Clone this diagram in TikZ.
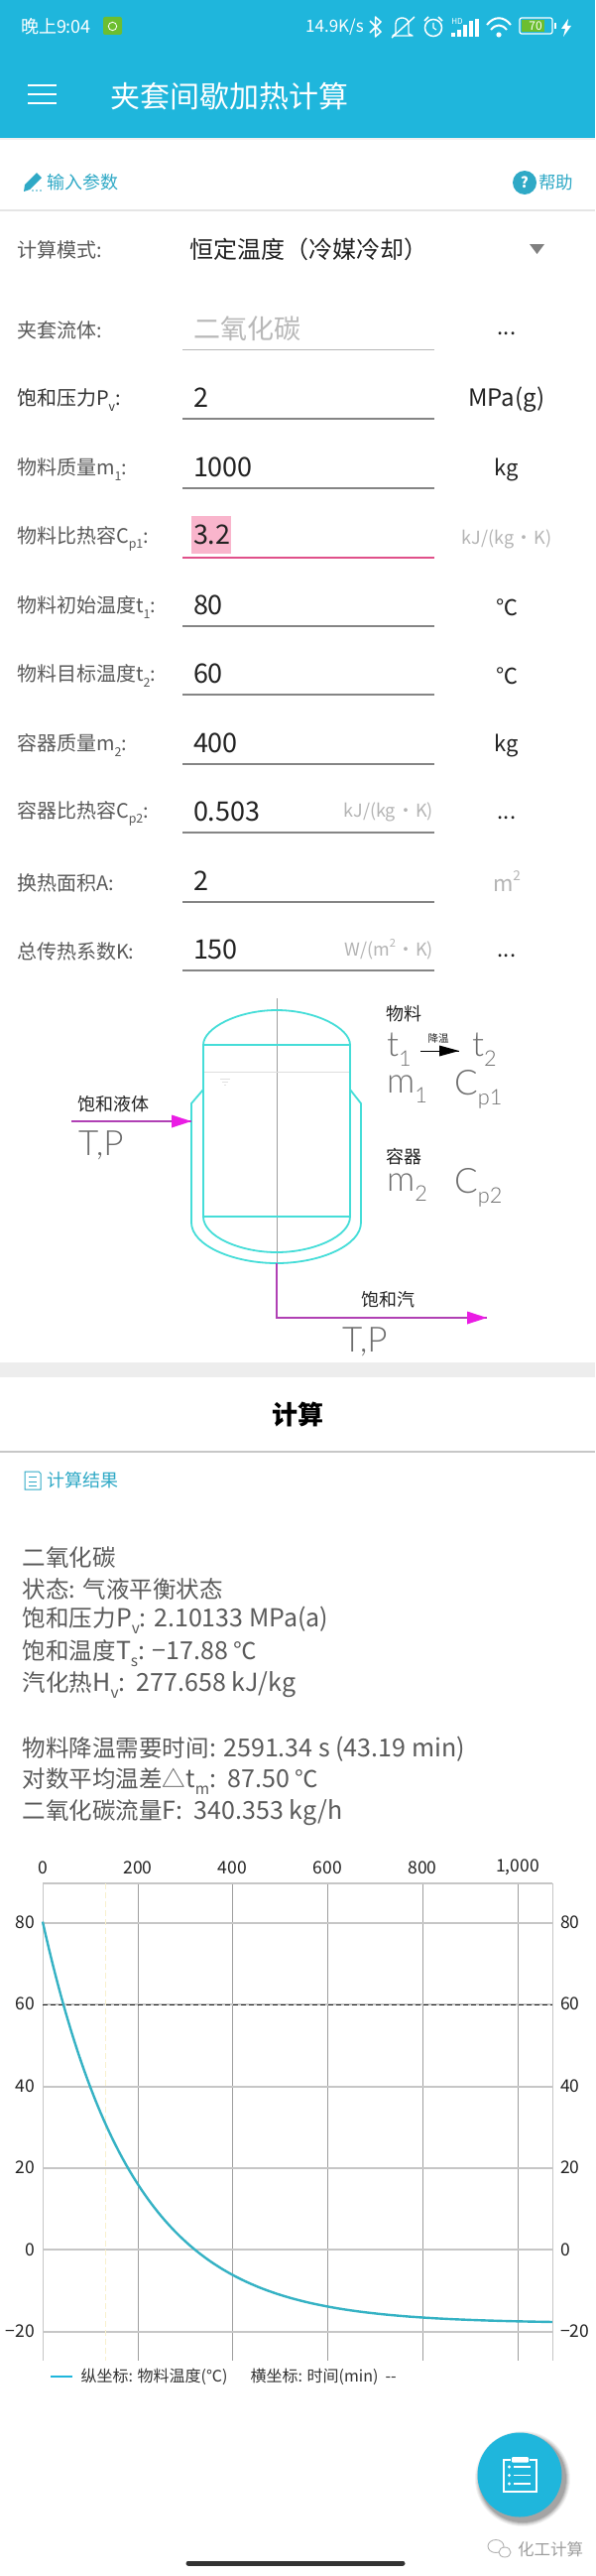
\documentclass[tikz,border=0pt]{standalone}
\usepackage{fontspec}
\setmainfont{Noto Sans CJK SC}
\newfontfamily\latof{Lato Light}
\definecolor{hdr}{HTML}{1FB6DC}
\definecolor{teal2}{HTML}{2FA9C6}
\definecolor{lab}{HTML}{5A5A5A}
\definecolor{val}{HTML}{222222}
\definecolor{faint}{HTML}{B4B4B4}
\definecolor{ul}{HTML}{858585}
\definecolor{vess}{HTML}{45DDD8}
\definecolor{flowline}{HTML}{B040B4}
\definecolor{flowhead}{HTML}{EA1CE4}
\definecolor{thin}{HTML}{6E6E6E}
\definecolor{gridc}{HTML}{C6C6C6}
\definecolor{curve}{HTML}{35B2C4}
\definecolor{pinkfill}{HTML}{F9B5CC}
\definecolor{pinkline}{HTML}{E0508A}
\definecolor{leaf}{HTML}{6CBE30}
\newcommand\fs[1]{\fontsize{#1}{#1}\selectfont}
\newcommand\subs[1]{\raisebox{-0.28em}{\scalebox{0.62}{#1}}}
\newcommand\sups[1]{\raisebox{0.5em}{\scalebox{0.62}{#1}}}
\newcommand\lt[1]{{\fs{25}#1}}
\tikzset{
  txt/.style={inner sep=0pt,outer sep=0pt,anchor=west},
  labtxt/.style={txt,font=\fs{20},text=lab},
  valtxt/.style={txt,font=\fs{27},text=val},
  unittxt/.style={inner sep=0pt,font=\fs{22},text=val},
  faintunit/.style={inner sep=0pt,font=\fs{18},text=faint},
  fieldline/.style={ul,line width=1.4pt},
  restxt/.style={txt,font=\fs{23.5},text=lab},
  axis/.style={inner sep=0pt,font=\fs{17.5},text=val},
  cadt/.style={font=\fs{18},inner sep=0pt,text=val},
  thinsym/.style={inner sep=0pt,font=\latof\fs{35},text=thin},
  vesselline/.style={vess,line width=1.8pt},
}
\newcommand\prow[5]{% name, y, label, value, underline colour
  \node[labtxt] (#1L) at (17,#2) {#3};
  \node[valtxt,anchor=west] (#1V) at (195,#2-2) {#4};
  \draw[fieldline] (184,#2+19) -- (438,#2+19);
}
\begin{document}
\begin{tikzpicture}[x=1pt,y=-1pt]
\useasboundingbox (0,0) rectangle (600,2596);
\fill[white] (0,0) rectangle (600,2596);
% header
\fill[hdr] (0,0) rectangle (600,139);
\fill[black!6] (0,139) rectangle (600,141);
\node[txt,text=white,font=\fs{18}] (clock) at (21,27) {晚上9:04};
\fill[leaf,rounded corners=2pt] (104,17) rectangle (123,35);
\draw[white,line width=.8pt] (113.5,26.5) circle (4.2);
\node[anchor=east,inner sep=0pt,text=white,font=\fs{17}] (speed) at (367,27) {14.9K/s};
% bluetooth
\draw[white,line width=1.5pt,line join=round] (373,21) -- (384,32) -- (378.5,37) -- (378.5,17) -- (384,22) -- (373,33);
% muted bell
\draw[white,line width=1.4pt,line join=round] (399,34) -- (399,24) .. controls (399,16) and (412,16) .. (412,24) -- (412,34) -- (416,36) -- (396,36) -- cycle;
\draw[white,line width=1.4pt] (395,38) -- (418,17);
% alarm
\draw[white,line width=1.5pt] (437,28) circle (8.5);
\draw[white,line width=1.2pt] (437,23) -- (437,28) -- (440,30);
\draw[white,line width=1.6pt] (428,21) -- (432,17) (446,21) -- (442,17);
% signal
\node[inner sep=0pt,text=white,font=\fs{8}] (hd) at (461,22) {HD};
\foreach \xx/\yy in {457/33,463/30,469/25,475/21,481/19}{\draw[white,line width=3.2pt] (\xx,37) -- (\xx,\yy);}
% wifi
\draw[white,line width=2pt] (491,25) .. controls (498,16) and (508,16) .. (515,25);
\draw[white,line width=2pt] (495,30) .. controls (500,24) and (506,24) .. (511,30);
\fill[white] (503,35) circle (2.6);
% battery
\draw[white,line width=1.2pt,rounded corners=2pt] (524,18) rectangle (557,34);
\fill[white] (558.5,23) rectangle (560.5,29);
\fill[leaf] (526,20) rectangle (549,32);
\node[inner sep=0pt,text=white,font=\fs{12}] (batt) at (540,26.5) {70};
\fill[white] (573,19) -- (566,29) -- (570,29) -- (568,37) -- (576,26) -- (572,26) -- cycle;
% app bar
\foreach \yy in {86,95,104}{\draw[white,line width=2.4pt] (28,\yy) -- (57,\yy);}
\node[txt,text=white,font=\fs{30}] (title) at (111,97) {夹套间歇加热计算};
% input section
\fill[teal2] (24,193) -- (25,186) -- (37,174) -- (42,179) -- (30,191) -- cycle;
\fill[teal2] (33,192) circle (.8) (37,192) circle (.8) (41,192) circle (.8);
\node[txt,text=teal2,font=\fs{18}] (inp) at (47,184) {输入参数};
\fill[teal2] (529,184) circle (12);
\node[inner sep=0pt,text=white,font=\bfseries\fs{15}] (q) at (529,184) {?};
\node[txt,text=teal2,font=\fs{17.5}] (help) at (543,184) {帮助};
\draw[black!10,line width=1.2pt] (0,212) -- (600,212);
% rows
\node[labtxt] (modeL) at (17,252) {计算模式:};
\node[valtxt,font=\fs{24},anchor=west] (modeV) at (191,251) {恒定温度（冷媒冷却）};
\fill[black!50] (534,246) -- (549,246) -- (541.5,256) -- cycle;
\node[labtxt] (fluidL) at (17,333) {夹套流体:};
\node[txt,text=black!28,font=\fs{27}] (fluidV) at (195,331) {二氧化碳};
\draw[black!28,line width=1.2pt] (184,352.5) -- (438,352.5);
\node[unittxt] (fluidU) at (511,336) {...};
\node[labtxt,text=black!80] (pvL) at (17,403) {饱和压力P\subs{v}:};
\node[valtxt] (pvV) at (195,401) {2};
\draw[fieldline] (184,422) -- (438,422);
\node[unittxt,font=\fs{24}] (pvU) at (511,403) {MPa(g)};
\fill[pinkfill] (193,520) rectangle (233,558);
\prow{mo}{473}{物料质量m\subs{1}:}{1000}{}
\node[unittxt] (moU) at (511,473) {kg};
\node[labtxt] (cpoL) at (17,543) {物料比热容C\subs{p1}:};
\node[valtxt] (cpoV) at (195,539) {3.2};
\draw[pinkline,line width=2.6pt] (184,562) -- (438,562);
\node[faintunit] (cpoU) at (511,543) {kJ/(kg\hspace{1pt}·\hspace{1pt}K)};
\prow{ta}{612}{物料初始温度t\subs{1}:}{80}{}
\node[unittxt] (taU) at (511,612) {℃};
\prow{tb}{681}{物料目标温度t\subs{2}:}{60}{}
\node[unittxt] (tbU) at (511,681) {℃};
\prow{mt}{751}{容器质量m\subs{2}:}{400}{}
\node[unittxt] (mtU) at (511,751) {kg};
\prow{cpt}{820}{容器比热容C\subs{p2}:}{0.503}{}
\node[faintunit,anchor=east] (cptI) at (437,818) {kJ/(kg\hspace{1pt}·\hspace{1pt}K)};
\node[unittxt] (cptU) at (511,824) {...};
\prow{ar}{890}{换热面积A:}{2}{}
\node[faintunit,font=\fs{22}] (arU) at (511,888) {m\sups{2}};
\prow{ku}{959}{总传热系数K:}{150}{}
\node[faintunit,anchor=east] (kuI) at (437,957) {W/(m\sups{2}\hspace{1pt}·\hspace{1pt}K)};
\node[unittxt] (kuU) at (511,963) {...};
% vessel
\coordinate (cTop) at (279,1006);
\coordinate (cBot) at (279,1273);
\coordinate (bend) at (279,1328);
\coordinate (outEnd) at (491,1328);
\coordinate (inStart) at (72,1130);
\coordinate (inEnd) at (193,1130);
\draw[black!38,line width=.6pt] (cTop) -- (cBot);
\draw[black!13,line width=.6pt] (205,1080) -- (353,1080);
\draw[black!12,line width=.6pt] (222,1087) -- (232,1087) (224,1090) -- (230,1090) (226,1093) -- (228,1093);
\draw[vesselline] (205,1053) .. controls (205,1036) and (240,1018) .. (279,1018) .. controls (318,1018) and (353,1036) .. (353,1053);
\draw[vesselline] (205,1053) -- (353,1053) (205,1226) -- (353,1226);
\draw[vesselline] (205,1053) -- (205,1226) .. controls (205,1246) and (242,1262) .. (279,1262) .. controls (316,1262) and (353,1246) .. (353,1226) -- (353,1053);
\draw[vesselline] (205,1098) -- (193,1112) -- (193,1232) .. controls (193,1255) and (235,1273) .. (279,1273) .. controls (323,1273) and (364,1255) .. (364,1232) -- (364,1112) -- (353,1098);
\draw[flowline,line width=1.1pt] (inStart) -- (inEnd);
\fill[flowhead] (inEnd) -- ++(-20,-6.5) -- ++(0,13) -- cycle;
\draw[flowline,line width=1.1pt] (cBot) -- (bend) -- (outEnd);
\fill[flowhead] (outEnd) -- ++(-20,-6.5) -- ++(0,13) -- cycle;
\node[cadt,anchor=west] (liq) at (78,1113) {饱和液体};
\node[thinsym,anchor=west] (tpA) at (79,1154) {T,P};
\node[cadt,anchor=west] (wl) at (389,1022) {物料};
\node[thinsym,anchor=west] (t1) at (390,1058) {t\subs{1}};
\node[cadt,font=\fs{10.5}] (cool) at (442,1046) {降温};
\coordinate (cA) at (424,1059);
\coordinate (cB) at (463,1059);
\draw[black,line width=.9pt] (cA) -- (cB);
\fill[black] (cB) -- ++(-20,-5.5) -- ++(0,11) -- cycle;
\node[thinsym,anchor=west] (t2) at (476,1058) {t\subs{2}};
\node[thinsym,anchor=west] (m1) at (390,1098) {m\subs{1}};
\node[thinsym,anchor=west] (cp1) at (458,1098) {C\subs{p1}};
\node[cadt,anchor=west] (rq) at (389,1166) {容器};
\node[thinsym,anchor=west] (m2) at (390,1197) {m\subs{2}};
\node[thinsym,anchor=west] (cp2) at (458,1197) {C\subs{p2}};
\node[cadt,anchor=west] (vap) at (364,1310) {饱和汽};
\node[thinsym,anchor=west] (tpB) at (345,1352) {T,P};
% band and button
\fill[black!7] (0,1373) rectangle (600,1388);
\node[inner sep=0pt,text=black,font=\bfseries\fs{26}] (calc) at (300,1426) {计算};
\fill[black!22] (0,1462) rectangle (600,1464);
% results
\draw[teal2,line width=1pt] (25,1483) -- (39,1483) -- (41,1485) -- (41,1501) -- (25,1501) -- cycle;
\draw[teal2,line width=1pt] (29,1488) -- (37,1488) (29,1493) -- (37,1493) (29,1497) -- (37,1497);
\node[txt,text=teal2,font=\fs{18}] (resh) at (47,1492) {计算结果};
\node[restxt] (r1) at (23,1570) {二氧化碳};
\node[restxt] (r2) at (23,1602) {状态: 气液平衡状态};
\node[restxt] (r3) at (23,1633) {饱和压力\lt{P\subs{v}: 2.10133 MPa(a)}};
\node[restxt] (r4) at (23,1666) {饱和温度\lt{T\subs{s}: −17.88} ℃};
\node[restxt] (r5) at (23,1698) {汽化热\lt{H\subs{v}:\ \ 277.658 kJ/kg}};
\node[restxt] (r6) at (23,1763) {物料降温需要时间\lt{: 2591.34 s (43.19 min)}};
\node[restxt] (r7) at (23,1795) {对数平均温差△\lt{t\subs{m}:\ \ 87.50} ℃};
\node[restxt] (r8) at (23,1827) {二氧化碳流量\lt{F:\ \ 340.353 kg/h}};
% chart grid
\foreach \xx in {139.3,234.7,330.6,426.3,522.4}{\draw[black!38,line width=.8pt] (\xx,1898) -- (\xx,2379);}
\draw[gridc,line width=1pt] (43,1898) -- (43,2379) (557,1898) -- (557,2379);
\draw[gridc,line width=1.5pt] (43,1898) -- (557,1898);
\foreach \yy in {1938,2103,2185,2267,2350}{\draw[gridc,line width=1.1pt] (43,\yy) -- (557,\yy);}
\draw[gridc,line width=1.1pt] (43,2020) -- (557,2020);
\draw[black!90,line width=1pt,dash pattern=on 5pt off 3pt] (43,2020) -- (557,2020);
\draw[yellow!50!brown!22,line width=1pt,dash pattern=on 6pt off 3pt] (106,1898) -- (106,2379);
\draw[curve,line width=2.4pt] plot[domain=0:1072.7,samples=160] ({\x*0.479+43},{2267-4.13*(-18+98*exp(-\x/189))});
% axis labels
\foreach \xx/\tt/\nn in {43/0/a,139/200/b,234.5/400/c,330.5/600/d,426/800/e,522/{1,000}/f}{\node[axis] (top\nn) at (\xx,1882) {\tt};}
\foreach \yy/\tt/\nn in {1937/80/a,2019/60/b,2102/40/c,2184/20/d,2267/0/e,2349/−20/f}{
  \node[axis,anchor=east] (lef\nn) at (35,\yy) {\tt};
  \node[axis,anchor=west] (rig\nn) at (565,\yy) {\tt};
}
% legend
\draw[hdr,line width=1.5pt] (51,2395) -- (73,2395);
\node[txt,font=\fs{16},text=black!80] (leg1) at (81.5,2395) {纵坐标: 物料温度(℃)};
\node[txt,font=\fs{16},text=black!80] (leg2) at (252.5,2395) {横坐标: 时间(min)\ \ {-}{-}};
% fab
\foreach \r/\o in {48/.05,47/.06,46/.08,45/.10,44/.12}{\fill[black,opacity=\o] (527,2498) circle (\r);}
\fill[hdr] (524,2494) circle (42.5);
\draw[white,line width=2pt] (515,2478.5) -- (508,2478.5) -- (508,2510.5) -- (541,2510.5) -- (541,2478.5) -- (534,2478.5);
\fill[white,rounded corners=1pt] (516,2476) rectangle (533,2481.5);
\foreach \yy in {2486,2494.5,2503}{
  \fill[white] (513.5,\yy) circle (1.7);
  \draw[white,line width=1.5pt] (518,\yy) -- (535,\yy);
}
% watermark
\draw[black!30,line width=.9pt] (500,2566) ellipse (8 and 6.5);
\draw[black!30,fill=white,line width=.9pt] (509,2572) ellipse (6 and 5);
\node[txt,font=\fs{16.5},text=black!38] (wm) at (522,2569) {化工计算};
% home bar
\draw[black!80,line width=5pt,line cap=round] (190,2583) -- (406,2583);
\end{tikzpicture}
\end{document}
